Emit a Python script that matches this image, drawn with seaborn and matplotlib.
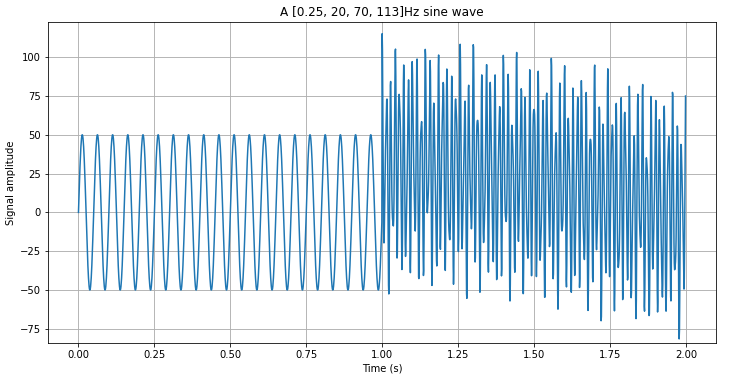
import numpy as np
import pandas as pd
import matplotlib
matplotlib.use("Agg")
import matplotlib.pyplot as plt
import seaborn as sns

# --- data ---
fs = 1000                         # samples per second
first_freq = 20                   # Hz, first second
first_amp = 50
second_freqs = [0.25, 20, 70, 113]  # Hz, second second (from title)
second_amps = [30, 10, 55, 20]
x_ticks = [0.00, 0.25, 0.50, 0.75, 1.00, 1.25, 1.50, 1.75, 2.00]
y_ticks = [-75, -50, -25, 0, 25, 50, 75, 100]

t_local = np.arange(0, 1, 1 / fs)
part1 = first_amp * np.sin(2 * np.pi * first_freq * t_local)
part2 = sum(a * np.cos(2 * np.pi * f * t_local) for f, a in zip(second_freqs, second_amps))
df = pd.DataFrame({
    "Time (s)": np.r_[t_local, 1 + t_local],
    "Signal amplitude": np.r_[part1, part2],
})

DPI = 72
fig, ax = plt.subplots(figsize=(729 / DPI, 387 / DPI), dpi=DPI)
fig.subplots_adjust(left=0.066, right=0.982, top=0.943, bottom=0.114)
sns.lineplot(data=df, x="Time (s)", y="Signal amplitude", ax=ax,
             color="#1f77b4", linewidth=1.5, estimator=None, sort=False)
ax.set_xticks(x_ticks)
ax.set_yticks(y_ticks)
ax.set_ylim(-84, 122.5)
ax.grid(True, color="#b0b0b0", linewidth=0.9)
ax.set_title("A [0.25, 20, 70, 113]Hz sine wave", fontsize=12)
ax.set_xlabel("Time (s)", fontsize=10)
ax.set_ylabel("Signal amplitude", fontsize=10)
ax.tick_params(labelsize=10)
fig.savefig("out.png", dpi=DPI)
